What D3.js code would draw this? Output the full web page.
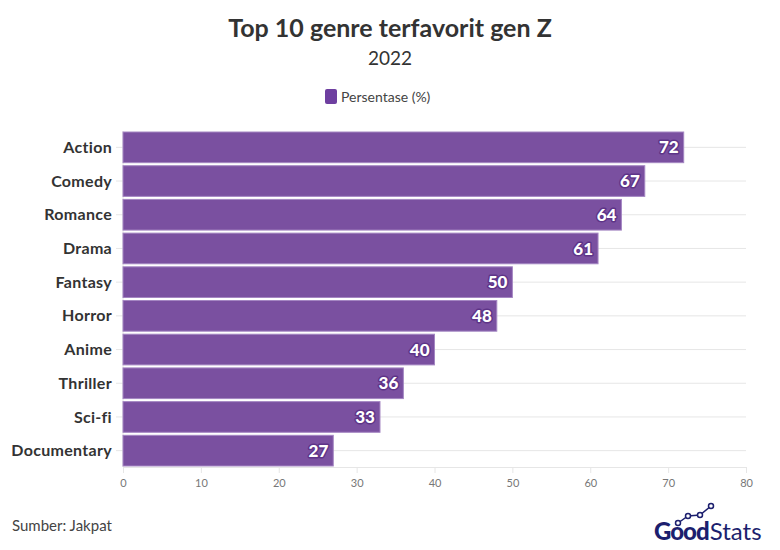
<!DOCTYPE html>
<html>
<head>
<meta charset="utf-8">
<script src="https://cdn.jsdelivr.net/npm/d3@7/dist/d3.min.js"></script>
<style>
  body { margin: 0; background: #fff; }
  svg { font-family: Lato, "Open Sans", sans-serif; }
</style>
</head>
<body>
<svg id="chart" width="780" height="550"></svg>
<script>
var genres = ["Action", "Comedy", "Romance", "Drama", "Fantasy", "Horror", "Anime", "Thriller", "Sci-fi", "Documentary"];
var persentase = [72, 67, 64, 61, 50, 48, 40, 36, 33, 27];
var xTicks = [0, 10, 20, 30, 40, 50, 60, 70, 80];

var svg = d3.select("#chart");
var margin = {top: 131, right: 34, bottom: 83, left: 123},
    width = 780 - margin.left - margin.right,
    height = 550 - margin.top - margin.bottom;

var x = d3.scaleLinear().domain([0, 80]).range([0, width]);
var y = d3.scaleBand().domain(genres).range([0, height]).paddingInner(0.09).paddingOuter(0.03);

// title
svg.append("text").attr("x", 390).attr("y", 37).attr("text-anchor", "middle")
    .style("font-size", "25px").style("font-weight", "bold").style("fill", "#333")
    .text("Top 10 genre terfavorit gen Z");
svg.append("text").attr("x", 390).attr("y", 65).attr("text-anchor", "middle")
    .style("font-size", "19px").style("fill", "#333").text("2022");

// legend
var leg = svg.append("g").attr("transform", "translate(325,89)");
leg.append("rect").attr("width", 12).attr("height", 15).attr("rx", 2).attr("fill", "#6e3fa0");
leg.append("text").attr("x", 16).attr("y", 13).style("font-size", "14px").style("fill", "#444")
    .text("Persentase (%)");

var g = svg.append("g").attr("transform", "translate(" + margin.left + "," + margin.top + ")");

// gridlines at category centers
g.selectAll("line.grid").data(genres).enter().append("line")
    .attr("x1", -7).attr("x2", width)
    .attr("y1", function(d) { return y(d) + y.bandwidth() / 2; })
    .attr("y2", function(d) { return y(d) + y.bandwidth() / 2; })
    .attr("stroke", "#e6e6e6").attr("stroke-width", 1);

// x axis
var xAxis = g.append("g").attr("transform", "translate(0," + height + ")")
    .call(d3.axisBottom(x).tickValues(xTicks).tickSize(6).tickPadding(6));
xAxis.select(".domain").attr("stroke", "#e6e6e6");
xAxis.selectAll(".tick line").attr("stroke", "#e6e6e6");
xAxis.selectAll(".tick text").style("font-size", "11px").style("fill", "#777")
    .style("font-family", "Lato, sans-serif");

// y axis labels
g.append("line").attr("x1", 0).attr("x2", 0).attr("y1", 0).attr("y2", height).attr("stroke", "#e6e6e6");
g.selectAll("text.cat").data(genres).enter().append("text")
    .attr("x", -11)
    .attr("y", function(d) { return y(d) + y.bandwidth() / 2; })
    .attr("dy", "0.35em").attr("text-anchor", "end")
    .style("font-size", "16px").style("font-weight", "bold").style("fill", "#333")
    .style("letter-spacing", "0.3px")
    .text(function(d) { return d; });

// bars
var data = genres.map(function(d, i) { return {genre: d, value: persentase[i]}; });
g.selectAll("rect.bar").data(data).enter().append("rect")
    .attr("x", 0)
    .attr("y", function(d) { return y(d.genre); })
    .attr("width", function(d) { return x(d.value); })
    .attr("height", y.bandwidth())
    .attr("fill", "#7a50a0").attr("stroke", "#a486c2").attr("stroke-width", 1);

// value labels
g.selectAll("text.val").data(data).enter().append("text")
    .attr("x", function(d) { return x(d.value) - 5; })
    .attr("y", function(d) { return y(d.genre) + y.bandwidth() / 2; })
    .attr("dy", "0.36em").attr("text-anchor", "end")
    .style("font-size", "17px").style("font-weight", "900").style("fill", "#fff")
    .style("paint-order", "stroke").style("stroke", "#5e3488").style("stroke-width", "3px")
    .style("stroke-linejoin", "round")
    .text(function(d) { return d.value; });

// source
svg.append("text").attr("x", 12).attr("y", 531).style("font-size", "15px").style("fill", "#444")
    .text("Sumber: Jakpat");

// logo
var logo = svg.append("g").attr("transform", "translate(654,540)");
var good = logo.append("text").attr("x", 0).attr("y", 0).style("font-size", "24px").style("font-weight", "900")
    .style("fill", "#1c1f6e").style("letter-spacing", "-1px").text("Good");
var gw = good.node().getComputedTextLength();
logo.append("text").attr("x", gw + 1).attr("y", 0).style("font-size", "24px")
    .style("fill", "#1c1f6e").text("Stats");
var pts = [[24, -17], [34, -24], [46, -25], [57, -34]];
logo.append("path").attr("d", d3.line()(pts)).attr("fill", "none").attr("stroke", "#1c1f6e").attr("stroke-width", 1.5);
logo.selectAll("circle").data(pts).enter().append("circle")
    .attr("cx", function(d) { return d[0]; }).attr("cy", function(d) { return d[1]; })
    .attr("r", 2.5).attr("fill", "#fff").attr("stroke", "#1c1f6e").attr("stroke-width", 1.5);
</script>
</body>
</html>
